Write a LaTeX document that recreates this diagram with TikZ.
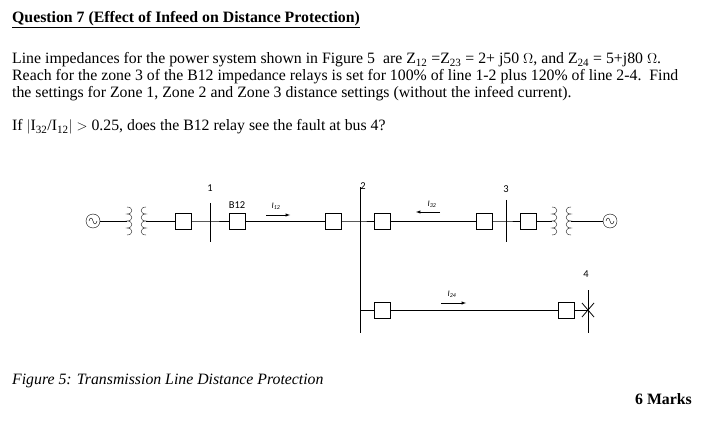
\documentclass[tikz,border=0pt]{standalone}
\usepackage{fontspec}
\setmainfont{Liberation Serif}
\newfontfamily\calfont{Carlito}
\begin{document}
\begin{tikzpicture}[x=1pt,y=-1pt,
  brk/.style={draw,fill=white,minimum size=15.5pt,inner sep=0pt},
  src/.style={draw,circle,minimum size=14pt,inner sep=0pt},
  lbl/.style={font=\calfont\fontsize{10.5}{12}\selectfont,inner sep=0pt},
  sub/.style={font=\calfont\itshape\fontsize{8.5}{9}\selectfont,inner sep=0pt},
  txt/.style={anchor=west,inner sep=0pt,font=\fontsize{15.8}{18}\selectfont},
  cur/.style={-latex,line width=0.5pt}]
\useasboundingbox (0,0) rectangle (704,422);
\node[txt,font=\bfseries\fontsize{15.8}{18}\selectfont] (q) at (12,20) {\underline{Question 7 (Effect of Infeed on Distance Protection)}};
\node[txt] (t1) at (12,60) {Line impedances for the power system shown in Figure 5\ \ are Z\textsubscript{12} =Z\textsubscript{23} = 2+ j50 $\Omega$, and Z\textsubscript{24} = 5+j80 $\Omega$.};
\node[txt] (t2) at (12,77) {Reach for the zone 3 of the B12 impedance relays is set for 100\% of line 1-2 plus 120\% of line 2-4.\ \ Find};
\node[txt] (t3) at (12,94) {the settings for Zone 1, Zone 2 and Zone 3 distance settings (without the infeed current).};
\node[txt] (t4) at (12,127) {If $|$I\textsubscript{32}/I\textsubscript{12}$|$ $>$ 0.25, does the B12 relay see the fault at bus 4?};
\node[txt,font=\itshape\fontsize{15.8}{18}\selectfont] (cap) at (12,381) {Figure 5: Transmission Line Distance Protection};
\node[anchor=east,inner sep=0pt,font=\bfseries\fontsize{15.8}{18}\selectfont] (mk) at (692,399) {6 Marks};
% buses
\draw[line width=1pt] (210,203) coordinate(b1t) -- (210,242) coordinate(b1b);
\draw[line width=1pt] (360,187) coordinate(b2t) -- (360,333) coordinate(b2b);
\draw[line width=1pt] (506,200) coordinate(b3t) -- (506,242) coordinate(b3b);
\draw[line width=1pt] (588,290) coordinate(b4t) -- (588,333) coordinate(b4b);
\coordinate (b1) at (210,221); \coordinate (b2) at (360,221); \coordinate (b2l) at (360,310);
\coordinate (b3) at (506,221); \coordinate (b4) at (588,310);
% sources and transformers
\node[src] (g1) at (93,221) {};
\draw (g1.center) ++(-4,0) .. controls +(1,-4) and +(-1,-4) .. +(4,0) .. controls +(1,4) and +(-1,4) .. +(8,0);
\node[src] (g3) at (610,221) {};
\draw (g3.center) ++(-4,0) .. controls +(1,-4) and +(-1,-4) .. +(4,0) .. controls +(1,4) and +(-1,4) .. +(8,0);
\foreach \x/\d in {127/1,146/-1,552/1,571/-1}{
  \draw (\x,207) \foreach \k in {0,1,2,3}{ .. controls +(\d*6.5,0) and +(\d*6.5,0) .. ++(0,7) };
}
\coordinate (t1l) at (127,221); \coordinate (t1r) at (146,221);
\coordinate (t3l) at (552,221); \coordinate (t3r) at (571,221);
\node[brk] (k1) at (183,221) {};
\node[brk] (k12) at (237,221) {};
\node[brk] (k21) at (333,221) {};
\node[brk] (k23) at (382,221) {};
\node[brk] (k32) at (484,221) {};
\node[brk] (k3) at (528,221) {};
\node[brk] (k24) at (382,310) {};
\node[brk] (k42) at (566,310) {};
\draw (g1) -- (t1l); \draw (t1r) -- (k1) -- (b1) -- (k12) -- (k21) -- (b2) -- (k23) -- (k32) -- (b3) -- (k3) -- (t3l);
\draw (t3r) -- (g3);
\draw (b2l) -- (k24) -- (k42) -- (b4);
\draw[line width=0.8pt] (582,303) -- (594,317) (582,317) -- (594,303);
% labels
\node[lbl] (l1) at (210,188) {1};
\node[lbl] (l2) at (363,186) {2};
\node[lbl] (l3) at (506,189) {3};
\node[lbl] (l4) at (586,274) {4};
\node[lbl] (lb) at (237,205) {B12};
\coordinate (a1) at (266,215); \coordinate (a2) at (290,215);
\draw[cur] (a1) -- (a2);
\node[sub] (i12) at (276,206) {I\textsubscript{12}};
\coordinate (c1) at (440,212); \coordinate (c2) at (416,212);
\draw[cur] (c1) -- (c2);
\node[sub] (i32) at (432,204) {I\textsubscript{32}};
\coordinate (d1) at (441,303); \coordinate (d2) at (466,303);
\draw[cur] (d1) -- (d2);
\node[sub] (i24) at (452,294) {I\textsubscript{24}};
\end{tikzpicture}
\end{document}
